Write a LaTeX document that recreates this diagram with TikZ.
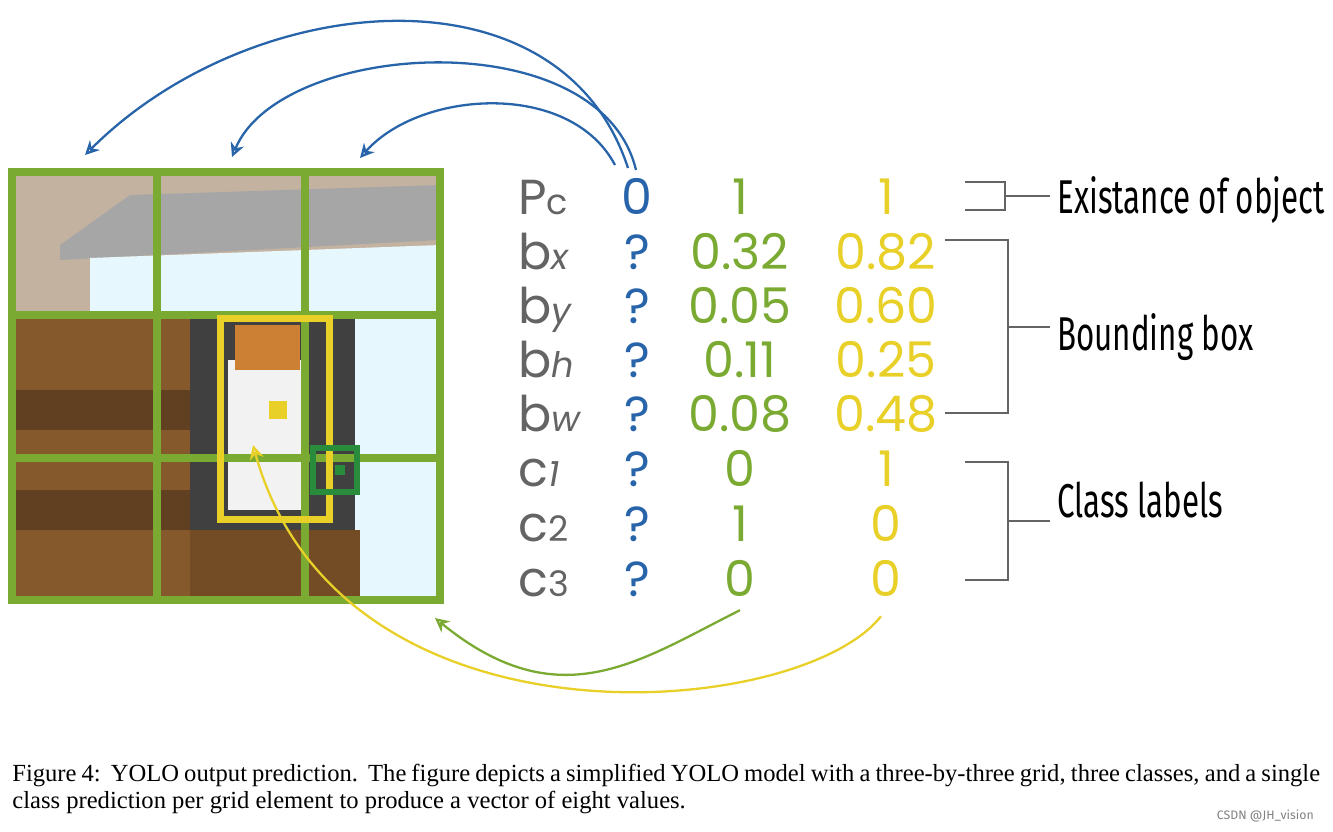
\documentclass[tikz,border=0pt]{standalone}
\usepackage{fontspec}
\setmainfont{Liberation Serif}
\newfontfamily\fut{Poppins}
\newfontfamily\lab{Fira Sans}
\usetikzlibrary{arrows.meta}
\definecolor{gr}{RGB}{122,170,50}
\definecolor{dg}{RGB}{40,140,60}
\definecolor{yl}{RGB}{232,208,40}
\definecolor{bl}{RGB}{40,100,170}
\definecolor{tg}{RGB}{100,100,100}
\newcommand{\narrow}[1]{\scalebox{0.66}[1]{#1}}
\begin{document}
\begin{tikzpicture}[x=0.02cm,y=-0.02cm,
 grid/.style={gr,line width=0.16cm},
 val/.style={font=\fut\fontsize{28}{30}\selectfont,anchor=base},
 lbl/.style={font=\fut\fontsize{28}{30}\selectfont,tg,anchor=base west},
 head/.style={font=\lab\fontsize{27}{28}\selectfont,anchor=west,inner sep=0},
 brk/.style={tg,line width=1.2pt},
 arr/.style={line width=1.3pt,-{Stealth[length=8pt,width=8pt,open]}}]
\useasboundingbox (0,0) rectangle (1333,832);
% photo approximation
\fill[gray!55!brown!60] (12,172) rectangle (440,315);
\fill[gray!70] (60,245) -- (130,195) -- (440,185) -- (440,240) -- (60,260) -- cycle;
\fill[white!90!cyan] (90,258) -- (440,245) -- (440,600) -- (90,600) -- cycle;
\fill[brown!70!black] (12,315) rectangle (190,600);
\fill[brown!50!black] (12,390) rectangle (190,430);
\fill[brown!50!black] (12,490) rectangle (190,530);
\fill[black!75] (190,315) rectangle (355,560);
\fill[brown!60!black] (190,530) rectangle (360,600);
\fill[white!90!gray] (228,360) rectangle (305,510);
\fill[brown!80!orange] (235,325) rectangle (300,370);
% grid
\foreach \p in {12,157,305,440}{\draw[grid] (\p,168) -- (\p,604);}
\foreach \q in {172,315,458,600}{\draw[grid] (8,\q) -- (444,\q);}
\node[draw=yl,line width=0.14cm,minimum width=2.2cm,minimum height=4.04cm,inner sep=0] (yb) at (275,419) {};
\node[fill=yl,minimum size=0.36cm,inner sep=0] (yd) at (278,410) {};
\node[draw=dg,line width=0.12cm,minimum size=0.88cm,inner sep=0] (gb) at (335,470) {};
\node[fill=dg,minimum size=0.2cm,inner sep=0] (gd) at (340,470) {};
% table
\foreach \l/\y in {P{\fontsize{20}{20}\selectfont c}/214,b{\fontsize{20}{20}\selectfont\itshape x}/269,b{\fontsize{20}{20}\selectfont\itshape y}/323,b{\fontsize{20}{20}\selectfont\itshape h}/377,b{\fontsize{20}{20}\selectfont\itshape w}/431,c{\fontsize{20}{20}\selectfont\itshape 1}/486,c{\fontsize{20}{20}\selectfont 2}/541,c{\fontsize{20}{20}\selectfont 3}/596}
  \node[lbl] at (512,\y) {\l};
\node[val,bl] (b0) at (637,214) {0};
\foreach \y/\n in {269/1,323/2,377/3,431/4,486/5,541/6,596/7} \node[val,bl] at (637,\y) {?};
\foreach \v/\y/\n in {1/214/1,0.32/269/2,0.05/323/3,0.11/377/4,0.08/431/5,0/486/6,1/541/7,0/596/8}
  \node[val,gr] (g\n) at (740,\y) {\v};
\foreach \v/\y/\n in {1/214/1,0.82/269/2,0.60/323/3,0.25/377/4,0.48/431/5,1/486/6,0/541/7,0/596/8}
  \node[val,yl] (y\n) at (886,\y) {\v};
% brackets
\draw[brk] (965,182) -- (1005,182) -- (1005,210) -- (965,210);
\draw[brk] (1005,196) -- (1050,196);
\node[head] (h1) at (1057,200) {\narrow{Existance of object}};
\draw[brk] (945,240) -- (1008,240) -- (1008,413) -- (945,413);
\draw[brk] (1008,327) -- (1050,327);
\node[head] (h2) at (1057,337) {\narrow{Bounding box}};
\draw[brk] (965,462) -- (1008,462) -- (1008,580) -- (965,580);
\draw[brk] (1008,521) -- (1050,521);
\node[head] (h3) at (1057,500) {\narrow{Class labels}};
% arrows
\coordinate (t1) at (85,155); \coordinate (t2) at (232,157); \coordinate (t3) at (360,158);
\draw[arr,bl] (628,168) .. controls (560,-40) and (250,-10) .. (t1);
\draw[arr,bl] (636,170) .. controls (600,20) and (280,40) .. (t2);
\draw[arr,bl] (615,165) .. controls (570,80) and (420,90) .. (t3);
\coordinate (ga) at (435,618);
\draw[arr,gr] (g8.south) ++(0,8) .. controls (640,660) and (560,720) .. (ga);
\coordinate (ya) at (253,445);
\draw[arr,yl] (y8.south) ++(-5,14) .. controls (800,720) and (340,760) .. (ya);
% caption
\node[anchor=north west,inner sep=0,text width=26.16cm,align=justify,font=\fontsize{14}{15.5}\selectfont] (cap) at (12,764)
{Figure 4:\ \ YOLO output prediction.\ \ The figure depicts a simplified YOLO model with a three-by-three grid, three classes, and a single class prediction per grid element to produce a vector of eight values.};
\node[anchor=east,font=\lab\fontsize{7}{8}\selectfont,gray] (wm) at (1320,816) {CSDN @JH\_vision};
\end{tikzpicture}
\end{document}
